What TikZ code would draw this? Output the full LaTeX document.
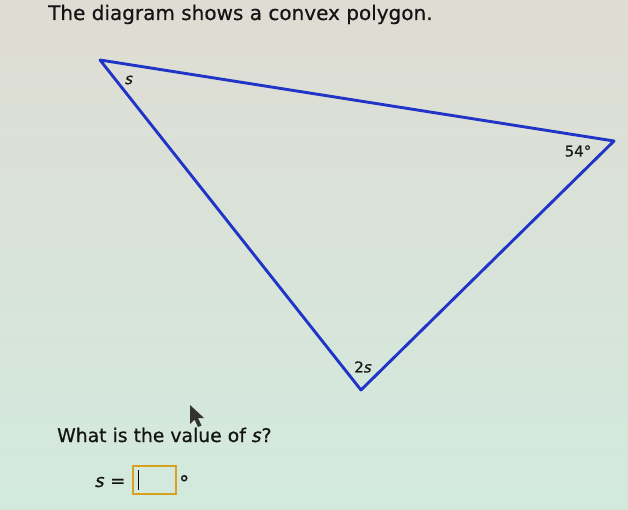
\documentclass[tikz,border=0pt]{standalone}
\usepackage{fontspec}
\setmainfont{DejaVu Sans}[FakeBold=0.6, ItalicFeatures={FakeBold=0.6}]
\usetikzlibrary{calc}
\definecolor{bgtop}{HTML}{DFDCD3}
\definecolor{bgbot}{HTML}{D2EADE}
\definecolor{edgeblue}{HTML}{2134C8}
\definecolor{boxorange}{HTML}{D9A21C}
\tikzset{
  edge/.style={draw=edgeblue, line width=2.9pt, line join=round},
  anglelbl/.style={font=\fontsize{15}{17}\selectfont, text=black!90, inner sep=0pt},
  qtext/.style={anchor=base west, inner sep=0pt, text=black!92},
  ansbox/.style={draw=boxorange, line width=1.4pt, minimum width=43pt, minimum height=28pt, inner sep=0pt},
}
\begin{document}
\begin{tikzpicture}[x=1pt, y=-1pt]
\useasboundingbox (0,0) rectangle (628,510);
\shade[top color=bgtop, bottom color=bgbot] (0,0) rectangle (628,510);
% title
\node[qtext, font=\fontsize{20}{24}\selectfont] (title) at (48,20) {The diagram shows a convex polygon.};
% triangle
\coordinate (A) at (100,60);
\coordinate (B) at (614,141);
\coordinate (C) at (361,390);
\draw[edge] (A) -- (B) -- (C) -- cycle;
\node[anglelbl] (la) at (129,80) {\itshape s};
\node[anglelbl] (lb) at (578,151) {54°};
\node[anglelbl] (lc) at (363,367) {2\itshape s};
% question
\node[qtext, font=\fontsize{18.8}{22}\selectfont] (q) at (57,442) {What is the value of \itshape s\upshape ?};
\node[qtext, font=\fontsize{18}{21}\selectfont] (seq) at (95,487) {\itshape s\upshape\ =};
\node[ansbox] (box) at (154.5,480) {};
\draw[black, line width=1.4pt] ($(box.west)+(6,-10)$) -- ($(box.west)+(6,10)$);
\node[qtext, font=\fontsize{20}{22}\selectfont] (deg) at (179,490) {°};
% mouse pointer
\fill[black!80] (190,405) -- (190,424) -- (194.5,419.5) -- (198,427) -- (201.5,425.5) -- (198,418) -- (204,418) -- cycle;
\end{tikzpicture}
\end{document}
